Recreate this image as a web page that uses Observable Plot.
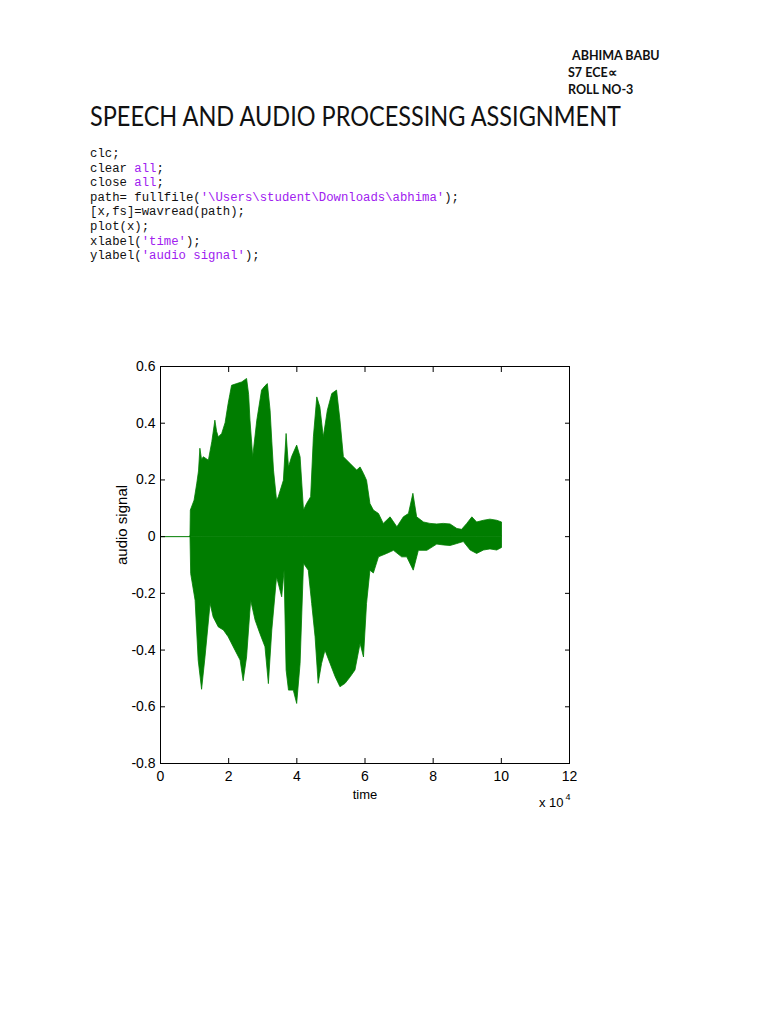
<!DOCTYPE html>
<html>
<head>
<meta charset="utf-8">
<script src="https://cdn.jsdelivr.net/npm/d3@7"></script>
<script src="https://cdn.jsdelivr.net/npm/@observablehq/plot@0.6"></script>
<style>
  html, body { margin: 0; padding: 0; background: #fff; }
  #page { position: relative; width: 768px; height: 1024px; overflow: hidden; background: #fff; }
  .hdr { position: absolute; font-family: Lato, "Open Sans", sans-serif; font-weight: bold; font-size: 12.5px; line-height: 17px; color: #111; white-space: pre; }
  #title { position: absolute; left: 90px; top: 103px; font-family: Lato, "Open Sans", sans-serif; font-size: 26px; line-height: 26px; color: #111; white-space: pre; transform-origin: 0 0; }
  #code { position: absolute; left: 90px; top: 147px; margin: 0; font-family: "Liberation Mono", "DejaVu Sans Mono", monospace; font-size: 12.3px; line-height: 14.6px; color: #111; }
  #code .s { color: #a020f0; }
  #chart { position: absolute; left: 0; top: 300px; }
</style>
</head>
<body>
<div id="page">
  <div class="hdr" id="h1" style="left:572px; top:47px;"></div>
  <div class="hdr" id="h2" style="left:568px; top:64px;"></div>
  <div class="hdr" id="h3" style="left:568px; top:81px;"></div>
  <div id="title"></div>
  <pre id="code"></pre>
  <div id="chart"></div>
</div>
<script>
// ---------- text content ----------
const headerLines = ["ABHIMA BABU", "S7 ECE\u221D", "ROLL NO-3"];
const titleText = "SPEECH AND AUDIO PROCESSING ASSIGNMENT";
// code lines: segments of [text, isString]
const codeLines = [
  [["clc;", false]],
  [["clear ", false], ["all", true], [";", false]],
  [["close ", false], ["all", true], [";", false]],
  [["path= fullfile(", false], ["'\\Users\\student\\Downloads\\abhima'", true], [");", false]],
  [["[x,fs]=wavread(path);", false]],
  [["plot(x);", false]],
  [["xlabel(", false], ["'time'", true], [");", false]],
  [["ylabel(", false], ["'audio signal'", true], [");", false]]
];
const xLabel = "time";
const yLabel = "audio signal";
const xMultiplier = "x 10";
const xExponent = "4";

// ---------- chart data (x in units of 10^4 samples) ----------
const xTicks = [0, 2, 4, 6, 8, 10, 12];
const yTicks = [-0.8, -0.6, -0.4, -0.2, 0, 0.2, 0.4, 0.6];
const xDomain = [0, 12];
const yDomain = [-0.8, 0.6];

// silent lead-in before the speech starts
const silenceX = [0, 0.88];
const silenceY = [0, 0];

// upper envelope of the waveform
const upperX = [0.88, 0.89, 1.00, 1.08, 1.13, 1.17, 1.22, 1.27, 1.42, 1.52, 1.61, 1.66, 1.71, 1.81, 1.91, 2.00, 2.05, 2.10, 2.25, 2.40, 2.54, 2.60, 2.64, 2.72, 2.84, 2.98, 3.08, 3.15, 3.23, 3.28, 3.33, 3.42, 3.47, 3.62, 3.70, 3.77, 3.86, 4.01, 4.11, 4.21, 4.30, 4.42, 4.50, 4.60, 4.69, 4.79, 4.91, 5.04, 5.18, 5.28, 5.38, 5.58, 5.77, 5.87, 5.97, 6.06, 6.16, 6.26, 6.41, 6.55, 6.75, 6.95, 7.14, 7.29, 7.42, 7.53, 7.73, 7.92, 8.12, 8.31, 8.51, 8.71, 8.85, 9.00, 9.15, 9.29, 9.49, 9.68, 9.88, 10.02, 10.02];
const upperY = [0.00, 0.092, 0.127, 0.187, 0.23, 0.31, 0.27, 0.28, 0.268, 0.333, 0.409, 0.37, 0.35, 0.362, 0.40, 0.468, 0.50, 0.532, 0.538, 0.544, 0.556, 0.50, 0.409, 0.28, 0.409, 0.515, 0.53, 0.538, 0.444, 0.335, 0.233, 0.127, 0.139, 0.197, 0.362, 0.244, 0.28, 0.321, 0.28, 0.092, 0.115, 0.139, 0.35, 0.491, 0.456, 0.35, 0.444, 0.503, 0.515, 0.409, 0.28, 0.256, 0.233, 0.244, 0.221, 0.197, 0.115, 0.092, 0.08, 0.045, 0.068, 0.033, 0.068, 0.08, 0.151, 0.068, 0.05, 0.045, 0.043, 0.045, 0.043, 0.027, 0.024, 0.045, 0.068, 0.05, 0.056, 0.06, 0.056, 0.05, 0.00];

// lower envelope of the waveform
const lowerX = [0.88, 0.90, 1.03, 1.12, 1.22, 1.32, 1.47, 1.56, 1.71, 1.86, 2.00, 2.20, 2.35, 2.44, 2.54, 2.66, 2.79, 2.93, 3.08, 3.18, 3.28, 3.42, 3.57, 3.64, 3.70, 3.77, 3.91, 4.01, 4.11, 4.21, 4.35, 4.45, 4.55, 4.64, 4.74, 4.84, 4.99, 5.14, 5.28, 5.43, 5.58, 5.72, 5.87, 5.97, 6.06, 6.16, 6.26, 6.41, 6.65, 6.85, 7.09, 7.24, 7.43, 7.58, 7.83, 8.12, 8.31, 8.51, 8.71, 8.90, 9.10, 9.29, 9.49, 9.68, 9.88, 10.02, 10.02];
const lowerY = [0.00, -0.132, -0.226, -0.437, -0.54, -0.426, -0.237, -0.285, -0.32, -0.331, -0.355, -0.402, -0.437, -0.51, -0.426, -0.226, -0.296, -0.343, -0.39, -0.52, -0.331, -0.143, -0.214, -0.12, -0.472, -0.543, -0.543, -0.59, -0.449, -0.096, -0.12, -0.237, -0.355, -0.519, -0.449, -0.402, -0.449, -0.496, -0.531, -0.519, -0.496, -0.472, -0.378, -0.426, -0.237, -0.12, -0.13, -0.073, -0.061, -0.05, -0.073, -0.073, -0.12, -0.05, -0.05, -0.028, -0.031, -0.033, -0.026, -0.019, -0.049, -0.061, -0.049, -0.045, -0.049, -0.04, 0.00];

// ---------- page text ----------
document.getElementById("h1").textContent = headerLines[0];
document.getElementById("h2").textContent = headerLines[1];
document.getElementById("h3").textContent = headerLines[2];
const titleEl = document.getElementById("title");
titleEl.textContent = titleText;

const codeEl = document.getElementById("code");
codeLines.forEach((segs, i) => {
  segs.forEach(([t, isStr]) => {
    const span = document.createElement("span");
    if (isStr) span.className = "s";
    span.textContent = t;
    codeEl.appendChild(span);
  });
  if (i < codeLines.length - 1) codeEl.appendChild(document.createTextNode("\n"));
});

// fit the title to the width it has in the document
const titleWidth = 531;
const w = titleEl.getBoundingClientRect().width;
if (w > 0) titleEl.style.transform = `scaleX(${titleWidth / w})`;

// ---------- chart ----------
const green = "#007d00";
const tickFont = "'Liberation Sans Narrow', 'Liberation Sans', Arial, sans-serif";
const fmtY = d => d === 0 ? "0" : d.toFixed(1);

const chart = Plot.plot({
  width: 768,
  height: 540,
  marginTop: 66,
  marginBottom: 77,
  marginLeft: 160,
  marginRight: 199,
  style: { fontFamily: tickFont, fontSize: "14px", color: "#000", background: "transparent", overflow: "visible" },
  x: { domain: xDomain },
  y: { domain: yDomain },
  marks: [
    Plot.lineY(silenceY, { x: silenceX, y: silenceY, stroke: green, strokeWidth: 1 }),
    Plot.areaY(upperY, { x: upperX, y: upperY, fill: green, stroke: green, strokeWidth: 0.8 }),
    Plot.areaY(lowerY, { x: lowerX, y: lowerY, fill: green, stroke: green, strokeWidth: 0.8 }),
    Plot.frame({ stroke: "#000", strokeWidth: 1 }),
    // tick labels
    Plot.axisX({ anchor: "bottom", ticks: xTicks, tickSize: 0, tickPadding: 8, tickFormat: d => String(d), label: null }),
    Plot.axisY({ anchor: "left", ticks: yTicks, tickSize: 0, tickPadding: 5, tickFormat: fmtY, label: null }),
    // inward tick marks on all four sides
    Plot.axisX({ anchor: "bottom", ticks: xTicks, tickSize: -5, tickFormat: () => "", label: null }),
    Plot.axisX({ anchor: "top", ticks: xTicks, tickSize: -5, tickFormat: () => "", label: null }),
    Plot.axisY({ anchor: "left", ticks: yTicks, tickSize: -5, tickFormat: () => "", label: null }),
    Plot.axisY({ anchor: "right", ticks: yTicks, tickSize: -5, tickFormat: () => "", label: null }),
    // axis titles
    Plot.text([xLabel], { frameAnchor: "bottom", dy: 35, fontSize: 13, text: d => d }),
    Plot.text([yLabel], { frameAnchor: "left", dx: -38, rotate: -90, fontSize: 15, text: d => d }),
    Plot.text([xMultiplier], { frameAnchor: "bottom-right", dx: -6, dy: 43, textAnchor: "end", fontSize: 13, text: d => d }),
    Plot.text([xExponent], { frameAnchor: "bottom-right", dx: -4, dy: 36, textAnchor: "start", fontSize: 9, text: d => d })
  ]
});
document.getElementById("chart").appendChild(chart);
</script>
</body>
</html>
